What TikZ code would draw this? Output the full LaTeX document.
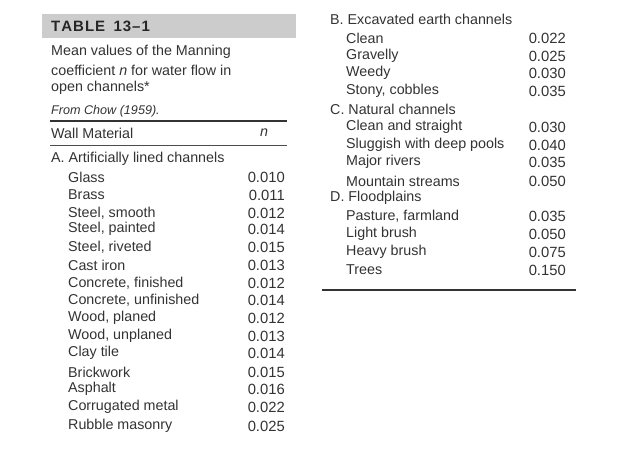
\documentclass[tikz,border=0pt]{standalone}
\usepackage{fontspec}
\setmainfont{Liberation Sans}
\begin{document}
\begin{tikzpicture}[x=1pt,y=-1pt,
  txt/.style={anchor=west,inner sep=0pt,font=\fontsize{14.3}{15}\selectfont,text=black!80},
  val/.style={anchor=east,inner sep=0pt,font=\fontsize{14.8}{15}\selectfont,text=black!80}]
\useasboundingbox[fill=white] (0,0) rectangle (633,452);
\fill[black!20] (42,14) rectangle (296,38);
\node[anchor=west,inner sep=0pt,font=\bfseries\fontsize{15}{16}\selectfont,text=black!85] (title) at (51,26) {T\kern1pt A\kern1pt B\kern1pt L\kern1pt E\ \ 1\kern1pt 3\kern1pt --\kern1pt 1};
\node[txt] (c1) at (51,52) {Mean values of the Manning};
\node[txt] (c2) at (51,70) {coefficient \textit{n} for water flow in};
\node[txt] (c3) at (51,88) {open channels*};
\node[txt,font=\itshape\fontsize{12.6}{13}\selectfont] (src) at (51,111) {From Chow (1959).};
\draw[line width=1.2pt,black!80] (50,121) -- (287,121);
\node[txt] (wm) at (51,133) {Wall Material};
\node[txt] (nh) at (260,133) {\textit{n}};
\draw[line width=0.6pt,black!70] (50,145) -- (287,145);
\node[txt] (A) at (51,159) {A. Artificially lined channels};
\foreach \t/\v/\y in {Glass/0.010/177, Brass/0.011/195, {Steel, smooth}/0.012/213, {Steel, painted}/0.014/229, {Steel, riveted}/0.015/247, Cast iron/0.013/265, {Concrete, finished}/0.012/283, {Concrete, unfinished}/0.014/300, {Wood, planed}/0.012/318, {Wood, unplaned}/0.013/336, Clay tile/0.014/353, Brickwork/0.015/372, Asphalt/0.016/389, Corrugated metal/0.022/407, Rubble masonry/0.025/426}
  {\node[txt] (l\y) at (68,\y) {\t}; \node[val] (v\y) at (285,\y) {\v};}
\foreach \t/\y in {B. Excavated earth channels/19, C. Natural channels/109, D. Floodplains/198}
  {\node[txt] (h\y) at (330,\y) {\t};}
\foreach \t/\v/\y in {Clean/0.022/38, Gravelly/0.025/56, Weedy/0.030/73, {Stony, cobbles}/0.035/91, Clean and straight/0.030/127, Sluggish with deep pools/0.040/145, Major rivers/0.035/162, Mountain streams/0.050/181, {Pasture, farmland}/0.035/216, Light brush/0.050/234, Heavy brush/0.075/252, Trees/0.150/270}
  {\node[txt] (r\y) at (346,\y) {\t}; \node[val] (w\y) at (566,\y) {\v};}
\draw[line width=1.2pt,black!80] (322,290) -- (576,290);
\end{tikzpicture}
\end{document}
